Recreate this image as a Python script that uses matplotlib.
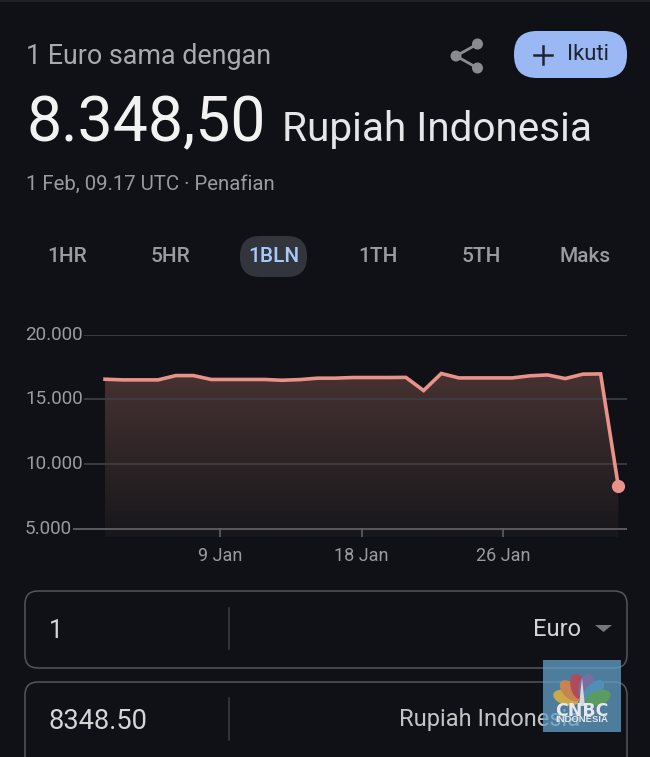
import numpy as np
import matplotlib.pyplot as plt
from matplotlib.patches import FancyBboxPatch, Rectangle, Circle, Ellipse, Polygon

plt.rcParams['font.family'] = ['Roboto', 'DejaVu Sans']

# data
rates = [16560, 16510, 16510, 16510, 16840, 16840, 16540, 16540, 16540, 16540,
         16480, 16530, 16640, 16640, 16690, 16690, 16690, 16700, 15690, 17000,
         16660, 16660, 16660, 16660, 16820, 16890, 16610, 16950, 16970, 8348.5]
y_ticks = [20000, 15000, 10000, 5000]
y_labels = ["20.000", "15.000", "10.000", "5.000"]
x_ticks = [6.5, 14.5, 22.5]
x_labels = ["9 Jan", "18 Jan", "26 Jan"]
ranges = ["1HR", "5HR", "1BLN", "1TH", "5TH", "Maks"]
range_x = [67, 170, 274, 378, 481, 585]

BG = "#101117"
LINE = "#e8928a"
GREY = "#9a9b9f"

fig = plt.figure(figsize=(6.5, 7.57), dpi=100, facecolor=BG)

# ui layer, in pixels
ui = fig.add_axes([0, 0, 1, 1])
ui.set_xlim(0, 650)
ui.set_ylim(757, 0)
ui.axis("off")


def box(x0, y0, x1, y1, r, **kw):
    ui.add_patch(FancyBboxPatch((x0 + r, y0 + r), x1 - x0 - 2 * r, y1 - y0 - 2 * r,
                                boxstyle=f"round,pad={r},rounding_size={r}", **kw))


ui.add_patch(Rectangle((0, 0), 650, 2, color="#202127", lw=0))

## Header ======================================================================
ui.text(26, 64, "1 Euro sama dengan", color="#a9aaad", fontsize=19.4, va="baseline")
ui.text(26, 141, "8.348,50", color="#f2f2f3", fontsize=45, va="baseline")
ui.text(282, 141, "Rupiah Indonesia", color="#e6e6e8", fontsize=29.2, va="baseline")
ui.text(26, 190, "1 Feb, 09.17 UTC · Penafian", color="#9a9b9f", fontsize=14.7, va="baseline")

# share icon
for a, b in [((477.5, 44), (456, 56)), ((456, 56), (477.5, 68))]:
    ui.plot([a[0], b[0]], [a[1], b[1]], color="#8a8b8e", lw=2)
for c in [(477.5, 44), (456, 56), (477.5, 68)]:
    ui.add_patch(Circle(c, 5.5, color="#8a8b8e", lw=0))

# follow button
box(514, 31, 627, 78, 23, facecolor="#9ab8f4", edgecolor="none")
ui.plot([534, 552], [55, 55], color="#20242e", lw=1.8)
ui.plot([543, 543], [46, 64], color="#20242e", lw=1.8)
ui.text(567, 60, "Ikuti", color="#20242e", fontsize=15.8, va="baseline")

# range tabs
box(240, 236, 307, 277, 20, facecolor="#33353c", edgecolor="none")
for label, x in zip(ranges, range_x):
    col = "#a8c7fa" if label == "1BLN" else "#9a9b9f"
    ui.text(x, 262, label, color=col, fontsize=15, ha="center", va="baseline", weight="medium")

## Chart =======================================================================
# 17.7 px per point, first point at x=105, plot box 25-627 / 334.5-529.5
ax = fig.add_axes([25 / 650, 1 - 537 / 757, 602 / 650, 202.5 / 757], facecolor="none")
ax.axis("off")

xs = np.arange(len(rates))
for t in y_ticks:
    ax.axhline(t, color="#5f6064" if t == 5000 else "#3d3e43", lw=1.3, zorder=3)

grad = np.linspace(0, 1, 64).reshape(-1, 1, 1)
top = np.array([0x46, 0x32, 0x31]) / 255
bot = np.array([0x18, 0x17, 0x1c]) / 255
img = bot + (top - bot) * grad
im = ax.imshow(img, origin="lower", aspect="auto", zorder=1,
               extent=[xs[0], xs[-1], 4423, 17000])
poly = Polygon(list(zip(xs, rates)) + [(xs[-1], 4423), (xs[0], 4423)], transform=ax.transData)
im.set_clip_path(poly)
ax.set_xlim((25 - 105) / 17.7, (627 - 105) / 17.7)
ax.set_ylim(4423, 20000)

ax.plot(xs, rates, color=LINE, lw=2.6, zorder=4, solid_joinstyle="miter")
ax.plot(xs[-1], rates[-1], "o", color=LINE, ms=9.5, mew=0, zorder=5)

for t in x_ticks:
    ax.plot([t, t], [5000, 4423], color="#5f6064", lw=1.2, zorder=3)
for t, lab in zip(x_ticks, x_labels):
    ax.annotate(lab, (t, 5000), xytext=(0, -31.5), textcoords="offset pixels", color=GREY,
                fontsize=13, ha="center", va="baseline", annotation_clip=False)
for t, lab in zip(y_ticks, y_labels):
    ax.text((25 - 105) / 17.7, t, lab, color=GREY, fontsize=13.6, ha="left", va="center", zorder=6,
            bbox=dict(facecolor=BG, edgecolor="none", pad=1))

## Converter boxes =============================================================
box(25, 591, 627, 668, 13, facecolor="none", edgecolor="#55565a", lw=1.1)
box(25, 682, 627, 790, 13, facecolor="none", edgecolor="#55565a", lw=1.1)
ui.plot([229, 229], [608, 649], color="#3d3e43", lw=1.1)
ui.plot([229, 229], [698, 740], color="#3d3e43", lw=1.1)
ui.text(49, 638, "1", color="#d5d5d7", fontsize=18, va="baseline")
ui.text(48, 729, "8348.50", color="#d5d5d7", fontsize=19.6, va="baseline")
ui.text(581, 636, "Euro", color="#d5d5d7", fontsize=17, ha="right", va="baseline")
ui.add_patch(Polygon([(595, 625), (612, 625), (603.5, 632)], color="#77787b", lw=0))
ui.text(399, 726, "Rupiah Indonesia", color="#c4c4c7", fontsize=17, va="baseline")

## Watermark ===================================================================
ui.add_patch(Rectangle((543, 660), 78, 72, facecolor="#63a1cb", alpha=0.75, lw=0, zorder=8))
feathers = [(-72, "#c9a94a"), (-44, "#c98352"), (-14, "#b04a5d"),
            (14, "#77709f"), (44, "#4f8fb8"), (72, "#5a9c5f")]
cx, cy = 582, 703
for ang, col in feathers:
    a = np.radians(ang)
    dx, dy = np.sin(a), -np.cos(a)
    ell = Ellipse((cx + 17 * dx, cy + 17 * dy), 26, 14.5, angle=np.degrees(np.arctan2(dy, dx)),
                  facecolor=col, edgecolor="none", zorder=9)
    ui.add_patch(ell)
ui.add_patch(Polygon([(579, 706), (585, 706), (582, 678)], color="#d8d8da", lw=0, zorder=10))
ui.text(582, 711, "CNBC", color="#e8e8ea", fontsize=12.5, weight="bold", ha="center", va="center",
        family="DejaVu Sans", zorder=11)
ui.text(582, 720, "INDONESIA", color="#e8e8ea", fontsize=6.8, weight="bold", ha="center", va="center",
        family="Liberation Sans", zorder=11)

fig.savefig("out.png", dpi=100, facecolor=BG)
